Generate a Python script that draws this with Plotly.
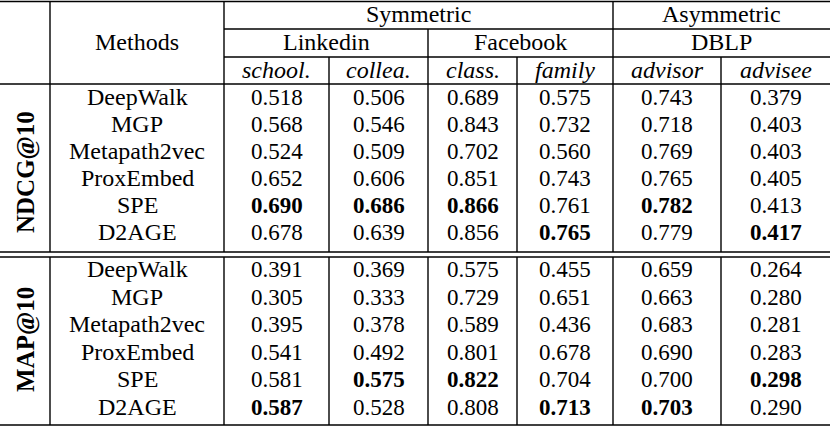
import plotly.graph_objects as go

methods = ['DeepWalk', 'MGP', 'Metapath2vec', 'ProxEmbed', 'SPE', 'D2AGE']
sub_cols = ['school.', 'collea.', 'class.', 'family', 'advisor', 'advisee']
datasets = ['Linkedin', 'Facebook', 'DBLP']
groups = ['Symmetric', 'Asymmetric']
metrics = ['NDCG@10', 'MAP@10']

ndcg = [[0.518, 0.506, 0.689, 0.575, 0.743, 0.379],
        [0.568, 0.546, 0.843, 0.732, 0.718, 0.403],
        [0.524, 0.509, 0.702, 0.560, 0.769, 0.403],
        [0.652, 0.606, 0.851, 0.743, 0.765, 0.405],
        [0.690, 0.686, 0.866, 0.761, 0.782, 0.413],
        [0.678, 0.639, 0.856, 0.765, 0.779, 0.417]]
map10 = [[0.391, 0.369, 0.575, 0.455, 0.659, 0.264],
         [0.305, 0.333, 0.729, 0.651, 0.663, 0.280],
         [0.395, 0.378, 0.589, 0.436, 0.683, 0.281],
         [0.541, 0.492, 0.801, 0.678, 0.690, 0.283],
         [0.581, 0.575, 0.822, 0.704, 0.700, 0.298],
         [0.587, 0.528, 0.808, 0.713, 0.703, 0.290]]

# table geometry (pixel-like axis units)
col_edges = [224, 329, 428, 517, 613, 721, 830]
col_x = [(a + b) / 2 for a, b in zip(col_edges[:-1], col_edges[1:])]
method_x = 137
block_y = [[97, 124, 151, 178, 205, 232], [269, 297, 324, 352, 379, 407]]
metric_y = [172, 340]
FONT = 'Liberation Serif'

fig = go.Figure()

def txt(x, y, s, size=24, angle=0):
    fig.add_annotation(x=x, y=y, text=s, showarrow=False, textangle=angle,
                       xanchor='center', yanchor='middle',
                       font=dict(family=FONT, size=size, color='black'))

for blk, vals in enumerate([ndcg, map10]):
    ys = block_y[blk]
    for i, m in enumerate(methods):
        txt(method_x, ys[i], m)
    for j in range(len(sub_cols)):
        col = [row[j] for row in vals]
        best = max(col)
        for i, v in enumerate(col):
            txt(col_x[j], ys[i], '<b>%.3f</b>' % v if v == best else '%.3f' % v, 23)
    txt(26, metric_y[blk], '<b>%s</b>' % metrics[blk], 25, -90)

# header
for j, c in enumerate(sub_cols):
    txt(col_x[j], 70, '<i>%s</i>' % c)
for x, d in zip([(224 + 428) / 2, (428 + 613) / 2, (613 + 830) / 2], datasets):
    txt(x, 42, d)
for x, g in zip([(224 + 613) / 2, (613 + 830) / 2], groups):
    txt(x, 14, g)
txt(method_x, 42, 'Methods')

lw = 1.4
def hline(y, x0=0, x1=830):
    fig.add_shape(type='line', x0=x0, x1=x1, y0=y, y1=y, line=dict(color='black', width=lw))
def vline(x, y0, y1):
    fig.add_shape(type='line', x0=x, x1=x, y0=y0, y1=y1, line=dict(color='black', width=lw))

hline(1.5)
hline(29, 224)
hline(57, 224)
hline(84)
hline(252)
hline(257)
hline(425)
for x in [50, 224]:
    vline(x, 1.5, 252)
    vline(x, 257, 425)
vline(613, 1.5, 252)
vline(613, 257, 425)
vline(428, 29, 252)
vline(428, 257, 425)
for x in [329, 517, 721]:
    vline(x, 57, 252)
    vline(x, 257, 425)

fig.update_layout(width=832, height=429, margin=dict(l=0, r=0, t=0, b=0),
                  plot_bgcolor='white', paper_bgcolor='white', showlegend=False)
fig.update_xaxes(range=[0, 832], visible=False)
fig.update_yaxes(range=[429, 0], visible=False)

fig.write_html('out.html', config={'displayModeBar': False},
               post_script="document.body.style.margin='0';document.body.style.overflow='hidden';")
